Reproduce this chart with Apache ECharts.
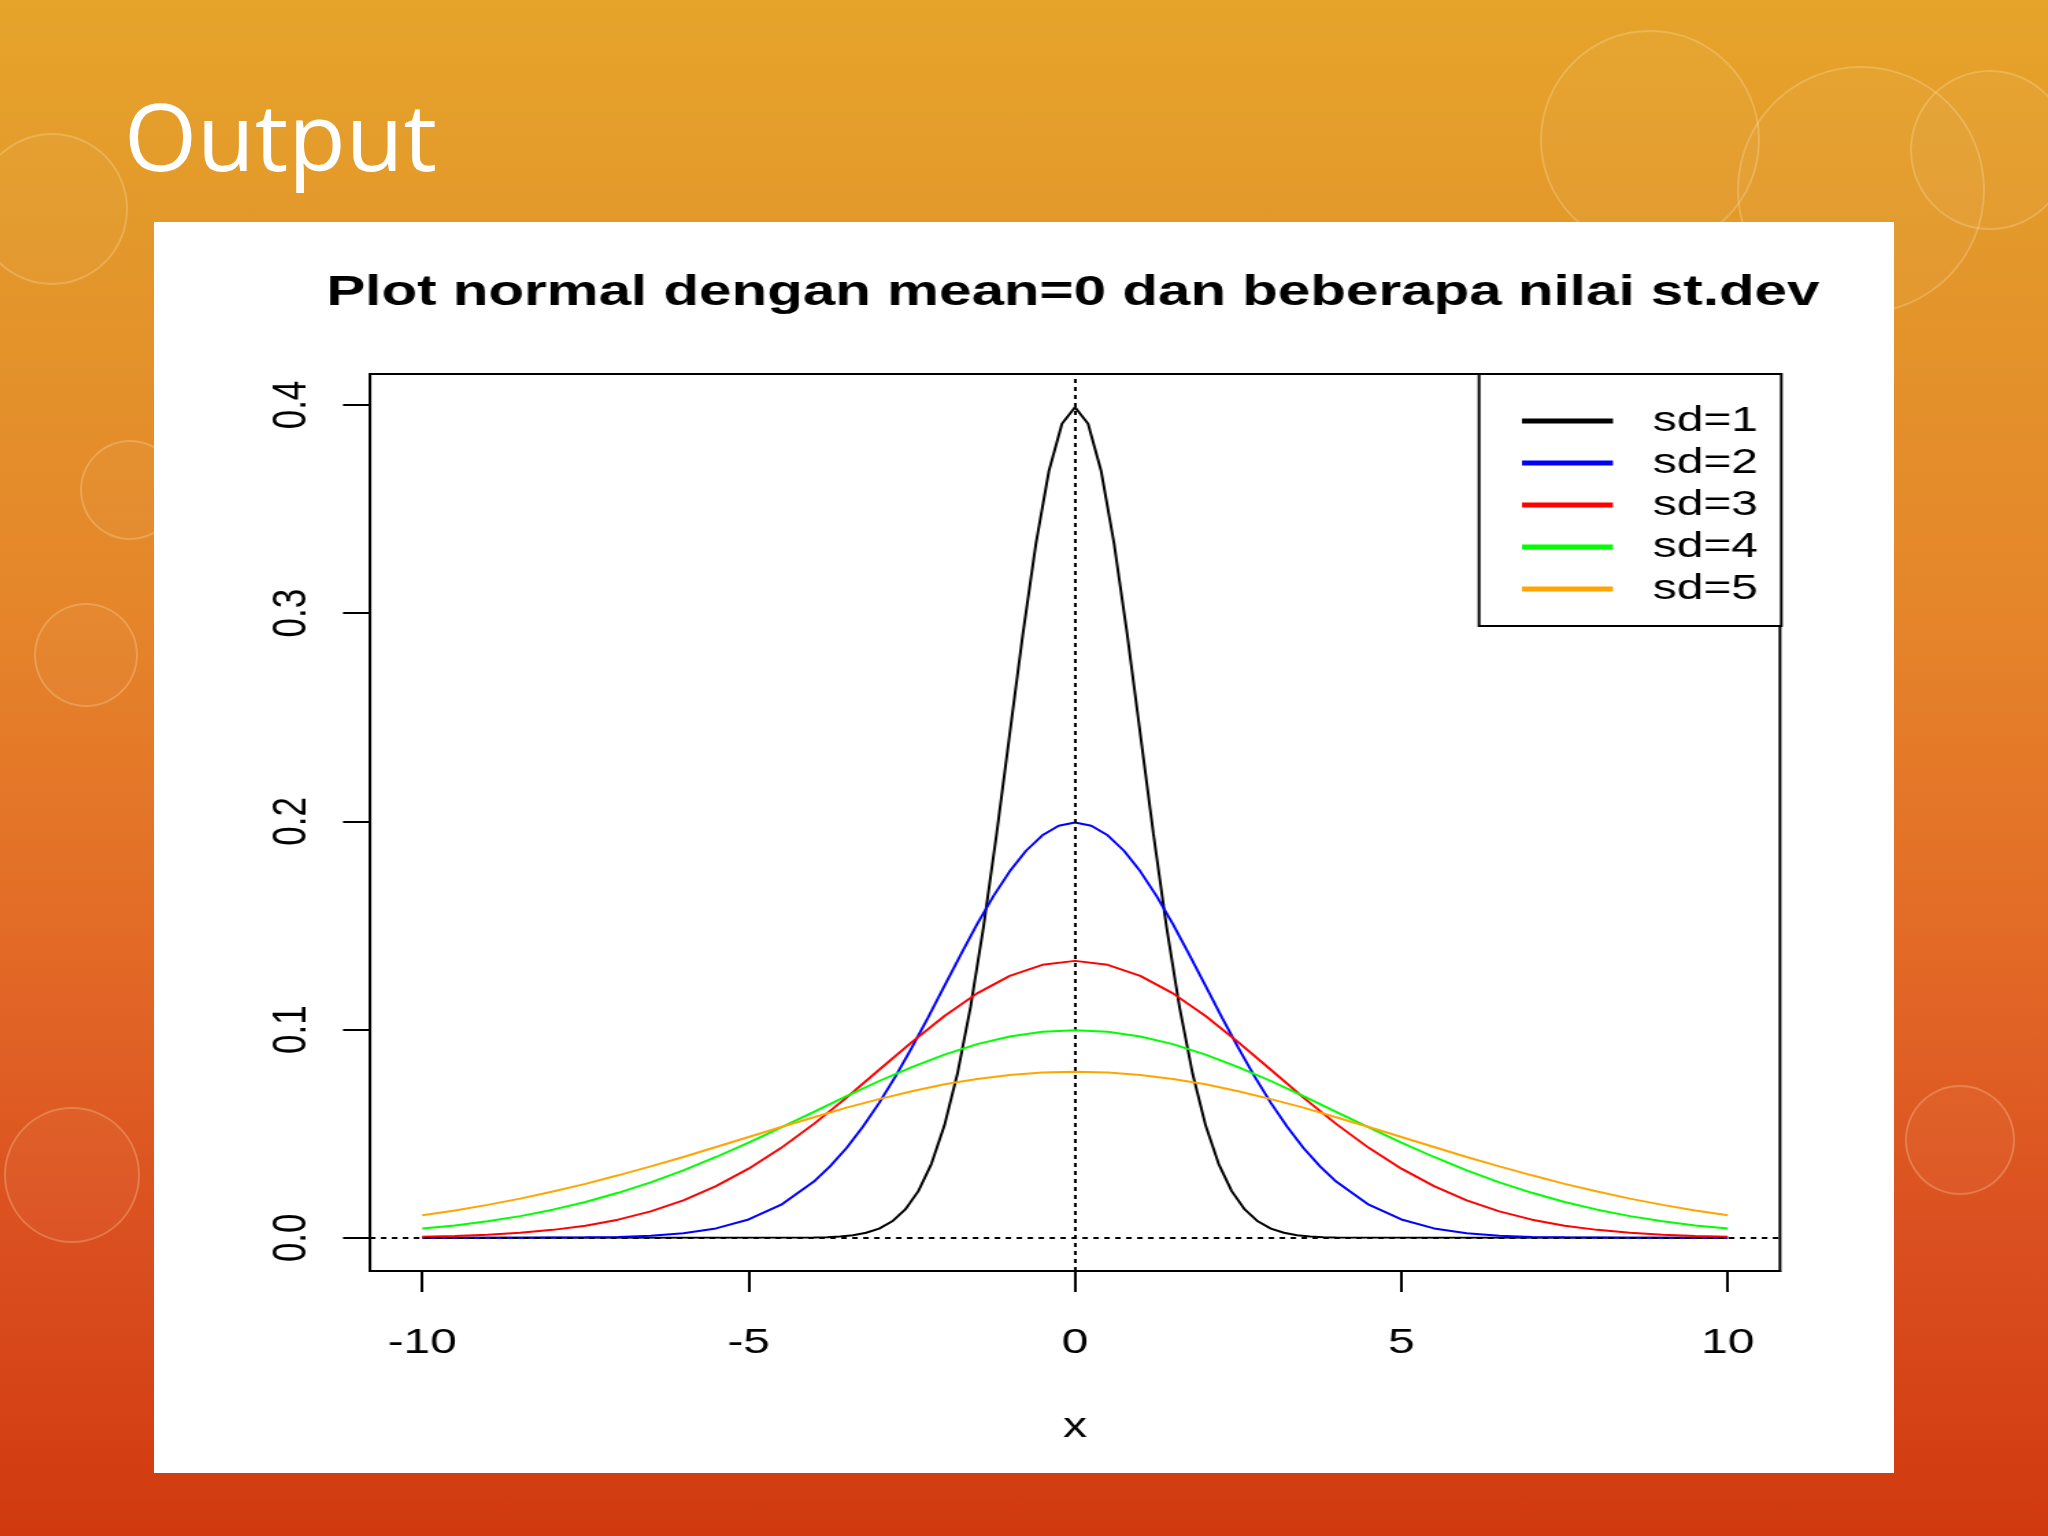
<!DOCTYPE html>
<html>
<head>
<meta charset="utf-8">
<script src="https://cdn.jsdelivr.net/npm/echarts@6/dist/echarts.min.js"></script>
<style>
html,body{margin:0;padding:0;width:2048px;height:1536px;overflow:hidden;}
body{position:relative;background:linear-gradient(180deg,#E6A42A 0%,#E3962A 18%,#E5852A 40%,#E36C27 60%,#DB5020 80%,#D0390E 100%);}
.bubble{position:absolute;border-radius:50%;border:2px solid rgba(255,235,190,0.24);background:rgba(255,255,255,0.03);box-sizing:border-box;}
#heading{position:absolute;left:124px;top:88px;font-family:'Open Sans',sans-serif;font-size:94px;line-height:94px;color:#ffffff;}
#card{position:absolute;left:154px;top:222px;width:1740px;height:1251px;background:#ffffff;}
#chart{position:absolute;left:0;top:0;width:1495px;height:1536px;transform:scaleX(1.3698997);transform-origin:0 0;}
</style>
</head>
<body>
<div class="bubble" style="left:1737px;top:66px;width:248px;height:248px;"></div>
<div class="bubble" style="left:1540px;top:30px;width:220px;height:220px;"></div>
<div class="bubble" style="left:1910px;top:70px;width:160px;height:160px;"></div>
<div class="bubble" style="left:-24px;top:133px;width:152px;height:152px;"></div>
<div class="bubble" style="left:80px;top:440px;width:100px;height:100px;"></div>
<div class="bubble" style="left:34px;top:603px;width:104px;height:104px;"></div>
<div class="bubble" style="left:4px;top:1107px;width:136px;height:136px;"></div>
<div class="bubble" style="left:1905px;top:1085px;width:110px;height:110px;"></div>
<div id="heading">Output</div>
<div id="card"></div>
<div id="chart"></div>
<script>
// ---------------- data ----------------
const titleText = 'Plot normal dengan mean=0 dan beberapa nilai st.dev';
const xAxisName = 'x';
const seriesNames = ['sd=1', 'sd=2', 'sd=3', 'sd=4', 'sd=5'];
const xTicks = [-10, -5, 0, 5, 10];
const yTicks = [0, 0.1, 0.2, 0.3, 0.4];

const xSd1 = [-10, -4, -3.8, -3.6, -3.4, -3.2, -3, -2.8, -2.6, -2.4, -2.2, -2, -1.8, -1.6, -1.4, -1.2, -1, -0.8, -0.6, -0.4, -0.2,
  0, 0.2, 0.4, 0.6, 0.8, 1, 1.2, 1.4, 1.6, 1.8, 2, 2.2, 2.4, 2.6, 2.8, 3, 3.2, 3.4, 3.6, 3.8, 4, 10];
const ySd1 = [0, 0.0001, 0.0003, 0.0006, 0.0012, 0.0024, 0.0044, 0.0079, 0.0136, 0.0224, 0.0355, 0.0540, 0.0790, 0.1109, 0.1497, 0.1942, 0.2420, 0.2897, 0.3332, 0.3683, 0.3910,
  0.3989, 0.3910, 0.3683, 0.3332, 0.2897, 0.2420, 0.1942, 0.1497, 0.1109, 0.0790, 0.0540, 0.0355, 0.0224, 0.0136, 0.0079, 0.0044, 0.0024, 0.0012, 0.0006, 0.0003, 0.0001, 0];

const xSd2 = [-10, -9.5, -9, -8.5, -8, -7.5, -7, -6.5, -6, -5.5, -5, -4.5,
  -4, -3.75, -3.5, -3.25, -3, -2.75, -2.5, -2.25, -2, -1.75, -1.5, -1.25, -1, -0.75, -0.5, -0.25,
  0, 0.25, 0.5, 0.75, 1, 1.25, 1.5, 1.75, 2, 2.25, 2.5, 2.75, 3, 3.25, 3.5, 3.75, 4,
  4.5, 5, 5.5, 6, 6.5, 7, 7.5, 8, 8.5, 9, 9.5, 10];
const ySd2 = [0, 0, 0, 0, 0.0001, 0.0002, 0.0004, 0.0010, 0.0022, 0.0045, 0.0088, 0.0159,
  0.0270, 0.0344, 0.0431, 0.0533, 0.0648, 0.0775, 0.0913, 0.1059, 0.1210, 0.1360, 0.1506, 0.1641, 0.1760, 0.1859, 0.1933, 0.1979,
  0.1995, 0.1979, 0.1933, 0.1859, 0.1760, 0.1641, 0.1506, 0.1360, 0.1210, 0.1059, 0.0913, 0.0775, 0.0648, 0.0533, 0.0431, 0.0344, 0.0270,
  0.0159, 0.0088, 0.0045, 0.0022, 0.0010, 0.0004, 0.0002, 0.0001, 0, 0, 0, 0];

const xWide = [-10, -9.5, -9, -8.5, -8, -7.5, -7, -6.5, -6, -5.5, -5, -4.5, -4, -3.5, -3, -2.5, -2, -1.5, -1, -0.5,
  0, 0.5, 1, 1.5, 2, 2.5, 3, 3.5, 4, 4.5, 5, 5.5, 6, 6.5, 7, 7.5, 8, 8.5, 9, 9.5, 10];
const ySd3 = [0.0005, 0.0009, 0.0015, 0.0024, 0.0038, 0.0058, 0.0087, 0.0127, 0.0180, 0.0248, 0.0332, 0.0432, 0.0547, 0.0673, 0.0807, 0.0940, 0.1065, 0.1174, 0.1258, 0.1311,
  0.1330, 0.1311, 0.1258, 0.1174, 0.1065, 0.0940, 0.0807, 0.0673, 0.0547, 0.0432, 0.0332, 0.0248, 0.0180, 0.0127, 0.0087, 0.0058, 0.0038, 0.0024, 0.0015, 0.0009, 0.0005];
const ySd4 = [0.0044, 0.0059, 0.0079, 0.0104, 0.0135, 0.0172, 0.0216, 0.0266, 0.0324, 0.0388, 0.0457, 0.0530, 0.0605, 0.0680, 0.0753, 0.0820, 0.0880, 0.0930, 0.0967, 0.0990,
  0.0997, 0.0990, 0.0967, 0.0930, 0.0880, 0.0820, 0.0753, 0.0680, 0.0605, 0.0530, 0.0457, 0.0388, 0.0324, 0.0266, 0.0216, 0.0172, 0.0135, 0.0104, 0.0079, 0.0059, 0.0044];
const ySd5 = [0.0108, 0.0131, 0.0158, 0.0188, 0.0222, 0.0259, 0.0300, 0.0343, 0.0388, 0.0436, 0.0484, 0.0532, 0.0579, 0.0625, 0.0666, 0.0704, 0.0737, 0.0763, 0.0782, 0.0794,
  0.0798, 0.0794, 0.0782, 0.0763, 0.0737, 0.0704, 0.0666, 0.0625, 0.0579, 0.0532, 0.0484, 0.0436, 0.0388, 0.0343, 0.0300, 0.0259, 0.0222, 0.0188, 0.0158, 0.0131, 0.0108];

// ---------------- layout / styling ----------------
const S = 2048 / 1495;          // horizontal stretch of the original plot image
const px = v => v / S;          // page x (px) -> chart x
const FONT = 'Liberation Sans';
const colors = ['#000000', '#0000FF', '#FF0000', '#00FF00', '#FFA500'];
const xs = [xSd1, xSd2, xWide, xWide, xWide];
const ys = [ySd1, ySd2, ySd3, ySd4, ySd5];

const series = seriesNames.map((name, i) => ({
  name: name,
  type: 'line',
  data: xs[i].map((x, j) => [x, ys[i][j]]),
  symbol: 'none',
  showSymbol: false,
  smooth: false,
  lineStyle: { color: colors[i], width: 2 },
  itemStyle: { color: colors[i] },
  emphasis: { disabled: true },
  z: 2 + i
}));
series.push({
  name: 'ref',
  type: 'line',
  data: [],
  z: 10,
  markLine: {
    silent: true,
    symbol: 'none',
    animation: false,
    label: { show: false },
    emphasis: { disabled: true },
    lineStyle: { color: '#000', type: [4, 4], width: 2 },
    data: [{ xAxis: 0 }, { yAxis: 0 }]
  }
});

const chart = echarts.init(document.getElementById('chart'), null, { renderer: 'canvas' });
chart.setOption({
  animation: false,
  backgroundColor: 'transparent',
  textStyle: { fontFamily: FONT },
  title: {
    text: titleText,
    left: px(1066),
    top: 267,
    textAlign: 'center',
    textStyle: { fontFamily: FONT, fontSize: 42.6, fontWeight: 'bold', color: '#000' }
  },
  legend: {
    orient: 'vertical',
    left: px(1479),
    top: 374,
    data: seriesNames,
    icon: 'rect',
    itemWidth: px(91),
    itemHeight: 5,
    itemGap: 6,
    padding: [29, 17, 19, px(43)],
    borderColor: '#000',
    borderWidth: 2,
    borderRadius: 0,
    backgroundColor: '#fff',
    selectedMode: false,
    textStyle: { fontFamily: FONT, fontSize: 35, lineHeight: 36, color: '#000', padding: [0, 0, 0, 24] }
  },
  grid: {
    left: px(370), top: 374, width: px(1410), height: 897,
    show: true, borderColor: '#000', borderWidth: 2, backgroundColor: 'transparent',
    containLabel: false, outerBoundsMode: 'none'
  },
  xAxis: {
    type: 'value', min: -10.8, max: 10.8,
    name: xAxisName, nameLocation: 'middle', nameGap: 139,
    nameTextStyle: { fontFamily: FONT, fontSize: 35, color: '#000' },
    splitLine: { show: false },
    axisLine: { show: true, onZero: false, lineStyle: { color: '#000', width: 2 } },
    axisTick: { show: true, inside: false, length: 21, customValues: xTicks, lineStyle: { color: '#000', width: 2 } },
    axisLabel: { customValues: xTicks, fontFamily: FONT, fontSize: 35, color: '#000', margin: 55, formatter: v => String(v) }
  },
  yAxis: {
    type: 'value', min: -0.01596, max: 0.41489,
    splitLine: { show: false },
    axisLine: { show: true, onZero: false, lineStyle: { color: '#000', width: 2 } },
    axisTick: { show: true, inside: false, length: px(27), customValues: yTicks, lineStyle: { color: '#000', width: 2 } },
    axisLabel: { customValues: yTicks, rotate: 90, fontFamily: FONT, fontSize: 35, color: '#000', margin: 39, formatter: v => v.toFixed(1) }
  },
  series: series
});
</script>
</body>
</html>
